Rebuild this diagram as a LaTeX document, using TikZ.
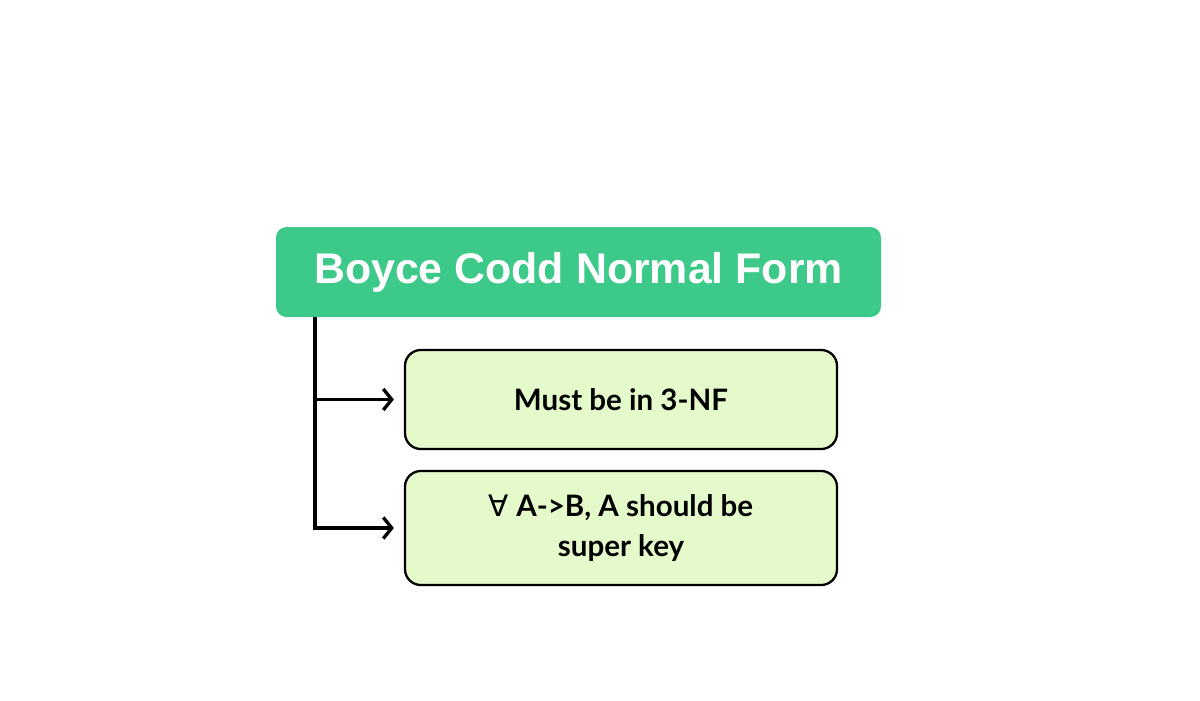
\documentclass[tikz,border=0pt]{standalone}
\usepackage{fontspec}
\setmainfont{Lato}
\newfontfamily\titlefont{Liberation Sans}
\newfontfamily\symfont{DejaVu Sans}
\usetikzlibrary{arrows.meta}
\definecolor{bcnfgreen}{HTML}{3CC98A}
\definecolor{rulefill}{HTML}{E5FACA}
\tikzset{
  headbox/.style = {rectangle, rounded corners=3pt, fill=bcnfgreen, text=white, minimum width=6.05cm, minimum height=0.9cm, font=\titlefont\bfseries\fontsize{12.2}{15}\selectfont},
  rulebox/.style = {rectangle, rounded corners=4.5pt, draw=black, line width=0.65pt, fill=rulefill, minimum width=4.32cm, align=center, font=\bfseries\fontsize{8.4}{11.4}\selectfont},
  branch/.style = {line width=0.95pt, -{Straight Barb[length=2.4pt,width=6pt,line width=0.95pt]}, shorten >=0.1cm}
}
\begin{document}
\begin{tikzpicture}
    \useasboundingbox (0,0) rectangle (12,7);
    \node[headbox] (bcnf) at (5.785,4.28) {Boyce Codd Normal Form};
    \node[rulebox, minimum height=0.99cm] (nf3) at (6.21,3.005) {Must be in 3-NF};
    \node[rulebox, minimum height=1.14cm] (superkey) at (6.21,1.72) {{\symfont\mdseries ∀} A->B, A should be\\super key};
    % trunk down from the heading
    \coordinate (trunk) at (3.15,3.83);
    \draw[branch] (trunk) |- (superkey.west);
    \draw[branch] (trunk |- nf3.west) -- (nf3.west);
\end{tikzpicture}
\end{document}
